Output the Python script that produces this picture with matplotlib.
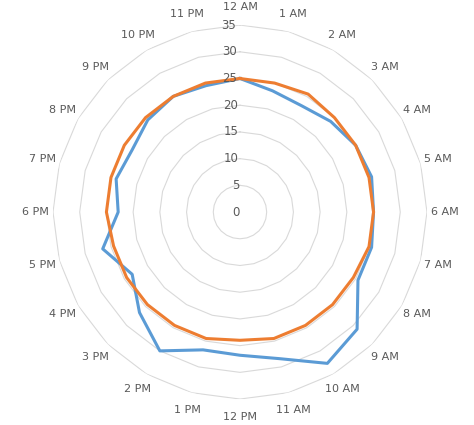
import matplotlib
matplotlib.use('Agg')
import matplotlib.pyplot as plt
import numpy as np

hours = ['12 AM', '1 AM', '2 AM', '3 AM', '4 AM', '5 AM', '6 AM', '7 AM', '8 AM', '9 AM', '10 AM', '11 AM',
         '12 PM', '1 PM', '2 PM', '3 PM', '4 PM', '5 PM', '6 PM', '7 PM', '8 PM', '9 PM', '10 PM', '11 PM']
blue = [25, 23.5, 23, 24, 25, 25.5, 25, 25.5, 25.5, 31, 32.7, 28.4,
        26.8, 26.7, 30, 26.6, 23.3, 26.6, 22.8, 24, 23.3, 24.4, 25, 24.5]
orange = [25, 25, 25.5, 25, 25, 25, 25, 25, 24.5, 24.5, 24.5, 24.5,
          24, 24.5, 24.5, 24.5, 24.5, 24.5, 25, 25, 25, 25, 25, 25]
rticks = [0, 5, 10, 15, 20, 25, 30, 35]

n = len(hours)
theta = np.arange(n) * 2 * np.pi / n
tc = np.append(theta, theta[0])

fig = plt.figure(figsize=(4.74, 4.25), dpi=100)
ax = fig.add_axes([0.1118, 0.061, 0.789, 0.88], projection='polar')
ax.set_theta_zero_location('N')
ax.set_theta_direction(-1)
ax.set_ylim(0, 35)
ax.grid(False)
ax.spines['polar'].set_visible(False)
ax.set_xticks([])
ax.set_yticks([])

for r in rticks[1:]:
    ax.plot(tc, [r] * (n + 1), color='#d9d9d9', lw=0.8, zorder=1)

ax.plot(tc, blue + blue[:1], color='#5b9bd5', lw=2.2, zorder=3)
ax.plot(tc, orange + orange[:1], color='#ed7d31', lw=2.2, zorder=4)

for r in rticks:
    ax.text(-0.02, r, str(r), ha='right', va='center', fontsize=8.5, color='#595959', zorder=5)
for t, lab in zip(theta, hours):
    ax.text(t, 38.3, lab, ha='center', va='center', fontsize=8, color='#595959')

fig.savefig('out.png', dpi=100)
